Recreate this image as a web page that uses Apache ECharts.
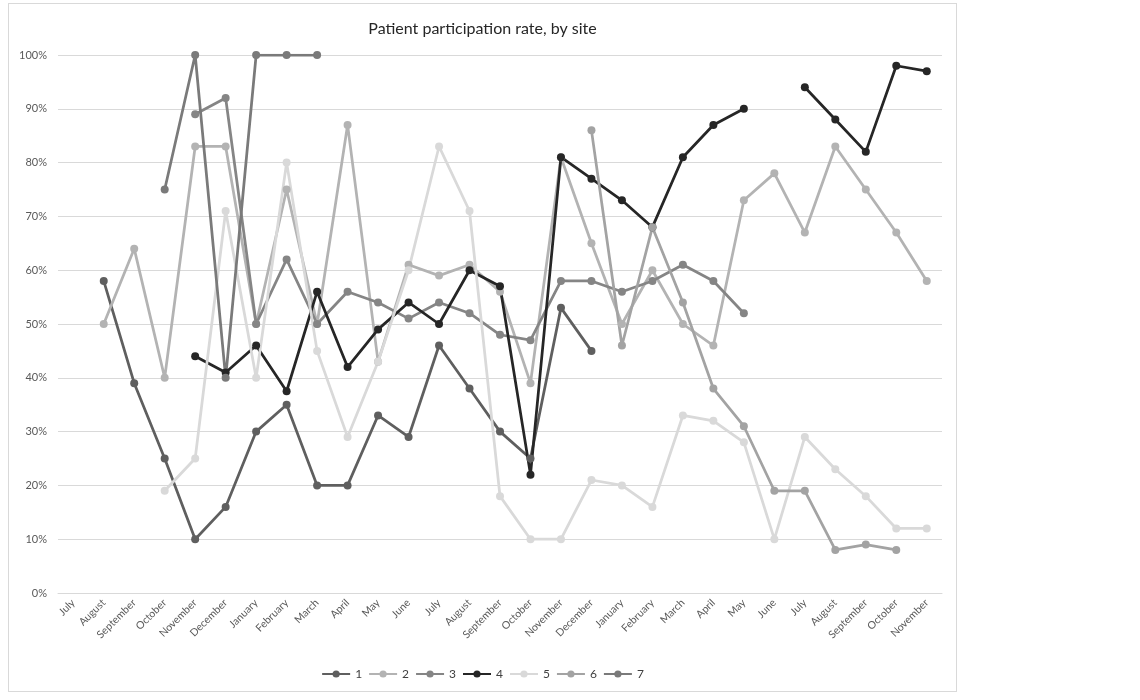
<!DOCTYPE html>
<html>
<head>
<meta charset="utf-8">
<title>Patient participation rate, by site</title>
<script src="https://cdn.jsdelivr.net/npm/echarts@6/dist/echarts.min.js"></script>
<style>
  html, body { margin: 0; padding: 0; background: #fff; }
  #chart {
    position: absolute; left: 8px; top: 3px;
    width: 949px; height: 689px;
    box-sizing: border-box; border: 1px solid #d9d9d9;
  }
</style>
</head>
<body>
<div id="chart"></div>
<script>
// months, two and a half years from July
var months = ['July', 'August', 'September', 'October', 'November', 'December',
  'January', 'February', 'March', 'April', 'May', 'June',
  'July', 'August', 'September', 'October', 'November', 'December',
  'January', 'February', 'March', 'April', 'May', 'June',
  'July', 'August', 'September', 'October', 'November'];

// participation rate in %, null = no data for that month
var site1 = [null, 58, 39, 25, 10, 16, 30, 35, 20, 20, 33, 29, 46, 38, 30, 25, 53, 45,
  null, null, null, null, null, null, null, null, null, null, null];
var site2 = [null, 50, 64, 40, 83, 83, 50, 75, 50, 87, 43, 61, 59, 61, 56, 39, 81, 65,
  50, 60, 50, 46, 73, 78, 67, 83, 75, 67, 58];
var site3 = [null, null, null, null, 89, 92, 50, 62, 50, 56, 54, 51, 54, 52, 48, 47, 58, 58,
  56, 58, 61, 58, 52, null, null, null, null, null, null];
var site4 = [null, null, null, null, 44, 41, 46, 37.5, 56, 42, 49, 54, 50, 60, 57, 22, 81, 77,
  73, 68, 81, 87, 90, null, 94, 88, 82, 98, 97];
var site5 = [null, null, null, 19, 25, 71, 40, 80, 45, 29, 43, 60, 83, 71, 18, 10, 10, 21,
  20, 16, 33, 32, 28, 10, 29, 23, 18, 12, 12];
var site6 = [null, null, null, null, null, null, null, null, null, null, null, null, null, null, null, null, null, 86,
  46, 68, 54, 38, 31, 19, 19, 8, 9, 8, null];
var site7 = [null, null, null, 75, 100, 40, 100, 100, 100, null, null, null, null, null, null, null, null, null,
  null, null, null, null, null, null, null, null, null, null, null];

var siteNames = ['1', '2', '3', '4', '5', '6', '7'];
var siteData = [site1, site2, site3, site4, site5, site6, site7];
var siteColors = ['#5f5f5f', '#b3b3b3', '#858585', '#262626', '#d9d9d9', '#a3a3a3', '#7a7a7a'];

var font = 'Lato, "Open Sans", sans-serif';

var myChart = echarts.init(document.getElementById('chart'));

var series = siteNames.map(function (name, i) {
  return {
    name: name,
    type: 'line',
    data: siteData[i],
    connectNulls: false,
    symbol: 'circle',
    symbolSize: 8,
    color: siteColors[i],
    lineStyle: { width: 2.75, color: siteColors[i] },
    itemStyle: { color: siteColors[i] },
    emphasis: { disabled: true },
    animation: false
  };
});

myChart.setOption({
  animation: false,
  title: {
    text: 'Patient participation rate, by site',
    left: 'center',
    top: 12,
    textStyle: { fontFamily: font, fontSize: 16, fontWeight: 'normal', color: '#262626' }
  },
  legend: {
    data: siteNames,
    top: 659,
    left: 'center',
    itemWidth: 28,
    itemHeight: 9,
    itemGap: 6,
    textStyle: { fontFamily: font, fontSize: 12, color: '#404040' }
  },
  grid: { left: 49, right: 14, top: 51, bottom: 98, containLabel: false },
  xAxis: {
    type: 'category',
    data: months,
    boundaryGap: true,
    axisLine: { lineStyle: { color: '#d9d9d9', width: 1 } },
    axisTick: { show: false },
    axisLabel: { rotate: 45, interval: 0, margin: 8, fontFamily: font, fontSize: 10.5, color: '#595959' }
  },
  yAxis: {
    type: 'value',
    min: 0,
    max: 100,
    interval: 10,
    axisLine: { show: false },
    axisTick: { show: false },
    splitLine: { lineStyle: { color: '#d9d9d9', width: 1 } },
    axisLabel: { formatter: '{value}%', margin: 11, fontFamily: font, fontSize: 11, color: '#595959' }
  },
  series: series
});
</script>
</body>
</html>
